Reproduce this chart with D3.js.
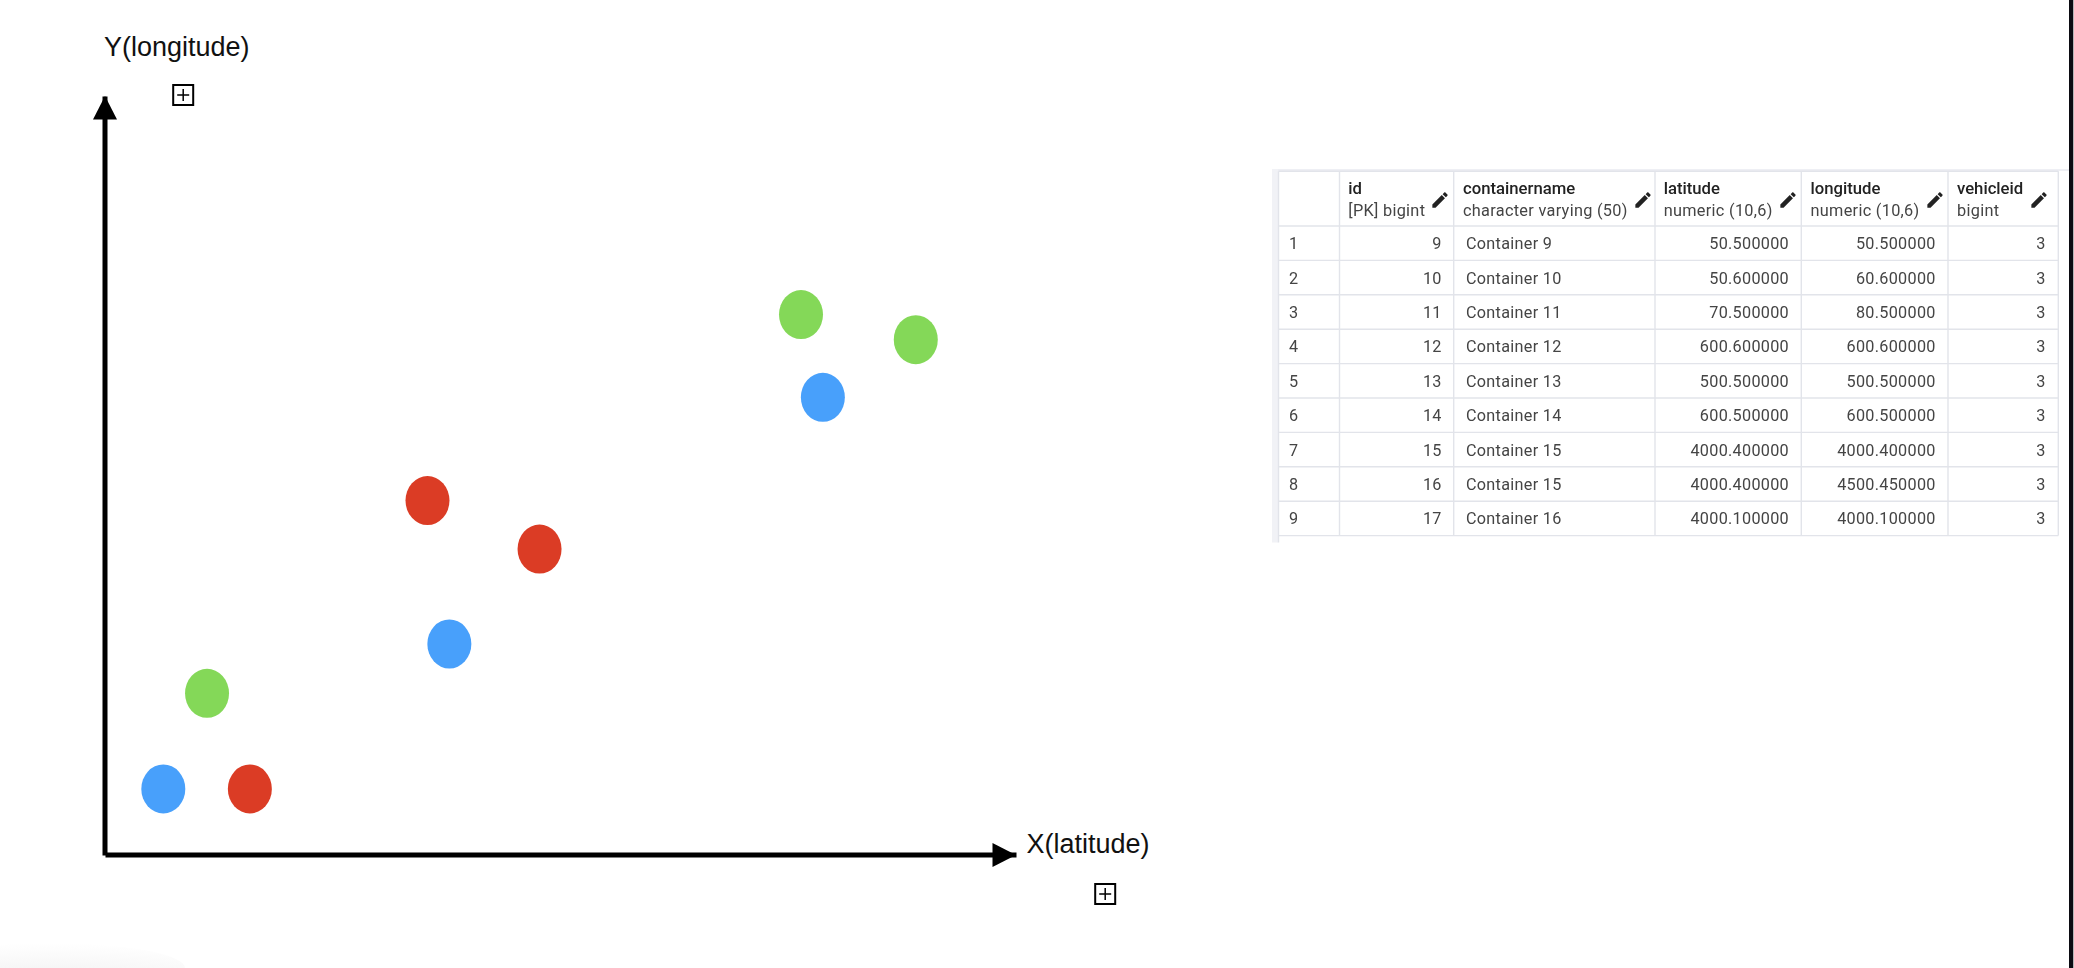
<!DOCTYPE html>
<html><head><meta charset="utf-8">
<script src="https://cdn.jsdelivr.net/npm/d3@7"></script>
<style>html,body{margin:0;padding:0;background:#fff;overflow:hidden}svg{display:block}</style>
</head><body><svg id="c" width="2074" height="968"></svg>
<script>
// ---- scatter sketch values (no numeric scale in the source; 0-100 axis units)
const greenX=[76.4,89.0,11.2], greenY=[71.2,67.9,21.3];
const blueX=[78.8,37.8,6.4],  blueY=[60.3,27.8,8.7];
const redX=[35.4,47.7,15.9],  redY=[46.7,40.3,8.7];
const xTitle="X(latitude)", yTitle="Y(longitude)";
// ---- table
const headNames=["id","containername","latitude","longitude","vehicleid"];
const headTypes=["[PK] bigint","character varying (50)","numeric (10,6)","numeric (10,6)","bigint"];
const rowNums=[1,2,3,4,5,6,7,8,9];
const ids=[9,10,11,12,13,14,15,16,17];
const names=["Container 9","Container 10","Container 11","Container 12","Container 13","Container 14","Container 15","Container 15","Container 16"];
const lats=["50.500000","50.600000","70.500000","600.600000","500.500000","600.500000","4000.400000","4000.400000","4000.100000"];
const lons=["50.500000","60.600000","80.500000","600.600000","500.500000","600.500000","4000.400000","4500.450000","4000.100000"];
const vehicles=[3,3,3,3,3,3,3,3,3];

const svg=d3.select("#c");
const defs=svg.append("defs");
const g=defs.append("radialGradient").attr("id","sh").attr("cx",.5).attr("cy",1).attr("r",1);
g.append("stop").attr("offset",0).attr("stop-color","#ececec");
g.append("stop").attr("offset",.6).attr("stop-color","#f8f8f8");
g.append("stop").attr("offset",1).attr("stop-color","#ffffff");
defs.append("filter").attr("id","soft").attr("x",0).attr("y",0).attr("width",1).attr("height",1)
  .append("feGaussianBlur").attr("stdDeviation",0.45);

// bottom-left window shadow and right edge bar
svg.append("ellipse").attr("cx",50).attr("cy",968).attr("rx",135).attr("ry",25).attr("fill","url(#sh)");
svg.append("rect").attr("x",2069).attr("y",0).attr("width",4.3).attr("height",968).attr("fill","#0b0b12");

// ---- axes
const x=d3.scaleLinear().domain([0,100]).range([105,1016]);
const y=d3.scaleLinear().domain([0,100]).range([855,96]);
const axW=5;
const ax=svg.append("g");
ax.append("g").attr("transform",`translate(0,${y(0)-0.5})`).call(d3.axisBottom(x).tickValues([]).tickSizeOuter(0))
  .select(".domain").attr("stroke","#000").attr("stroke-width",axW);
ax.append("g").attr("transform",`translate(${x(0)-0.5},0)`).call(d3.axisLeft(y).tickValues([]).tickSizeOuter(0))
  .select(".domain").attr("stroke","#000").attr("stroke-width",axW);
const aL=23.5,aH=12;
ax.append("path").attr("d",`M${x(100)},${y(0)}l${-aL},${-aH}v${2*aH}z`).attr("fill","#000");
ax.append("path").attr("d",`M${x(0)},${y(100)}l${-aH},${aL}h${2*aH}z`).attr("fill","#000");

// titles
const tf="'Liberation Sans',Arial,sans-serif";
svg.append("text").attr("x",x(0)-1).attr("y",56).attr("font-family",tf).attr("font-size",27).attr("fill","#111").text(yTitle);
svg.append("text").attr("x",1026.5).attr("y",y(0)-1.7).attr("font-family",tf).attr("font-size",27).attr("fill","#111").text(xTitle);

// small plus boxes
function plus(bx,by){
  const s=20,gp=svg.append("g").attr("transform",`translate(${bx},${by})`).attr("fill","none").attr("stroke","#000");
  gp.append("rect").attr("width",s).attr("height",s).attr("stroke-width",2);
  gp.append("path").attr("d",`M4,${s/2}H${s-4}M${s/2},4V${s-4}`).attr("stroke-width",1.5);
}
plus(173.2,85); plus(1095.2,884);

// ---- points
const series=[
 {c:"#84d858",xs:greenX,ys:greenY},
 {c:"#48a0fb",xs:blueX,ys:blueY},
 {c:"#db3c25",xs:redX,ys:redY}];
series.forEach(s=>{
  svg.append("g").selectAll("ellipse").data(d3.zip(s.xs,s.ys)).join("ellipse")
    .attr("cx",d=>x(d[0])).attr("cy",d=>y(d[1])).attr("rx",22).attr("ry",24.5).attr("fill",s.c);
});

// ---- table
const colX=[1278.5,1339.5,1453.7,1655,1801.3,1948,2058.3];
const headY=[171.3,226];
const rowH=34.4;
const rowLine=i=>headY[1]+rowH*i;
const t=svg.append("g").attr("filter","url(#soft)");
const tFont="Roboto,sans-serif";
const lc="#e2e4ea";
t.append("rect").attr("x",1272).attr("y",169).attr("width",797).attr("height",2).attr("fill","#eeeff4");
t.append("rect").attr("x",1272).attr("y",169).attr("width",6).attr("height",373.5).attr("fill","#f1f2f6");
t.selectAll(".v").data(colX).join("line").attr("x1",d=>d).attr("x2",d=>d)
  .attr("y1",headY[0]).attr("y2",(d,i)=>i===0?542.5:rowLine(9)).attr("stroke",lc).attr("stroke-width",1.4);
t.selectAll(".h").data([headY[0],...rowNums.map((d,i)=>rowLine(i)),rowLine(9)]).join("line")
  .attr("x1",colX[0]).attr("x2",colX[6]).attr("y1",d=>d).attr("y2",d=>d).attr("stroke",lc).attr("stroke-width",1.4);

const hx=[1348.3,1463,1663.7,1810.5,1957];
const pen=[1440,1643,1788,1935,2039];
const pd="M3 17.25V21h3.75L17.81 9.94l-3.75-3.75L3 17.25zM20.71 7.04c.39-.39.39-1.02 0-1.41l-2.34-2.34c-.39-.39-1.02-.39-1.41 0l-1.83 1.83 3.75 3.75 1.83-1.83z";
headNames.forEach((n,i)=>{
  t.append("text").attr("x",hx[i]).attr("y",194).attr("font-family",tFont).attr("font-weight",500).attr("font-size",16.7).attr("fill","#222").text(n);
  t.append("text").attr("x",hx[i]).attr("y",216).attr("font-family",tFont).attr("font-size",16.3).attr("letter-spacing",.3).attr("fill","#444").text(headTypes[i]);
  t.append("path").attr("d",pd).attr("transform",`translate(${pen[i]-10.2},${189.8}) scale(.85)`).attr("fill","#222");
});
const cols=[
 {v:rowNums,x:1289,a:"start"},
 {v:ids,x:1441.7,a:"end"},
 {v:names,x:1466,a:"start"},
 {v:lats,x:1789,a:"end"},
 {v:lons,x:1935.7,a:"end"},
 {v:vehicles,x:2045.7,a:"end"}];
cols.forEach(c=>{
  t.append("g").selectAll("text").data(c.v).join("text")
   .attr("x",c.x).attr("y",(d,i)=>rowLine(i)+23.2)
   .attr("text-anchor",c.a).attr("font-family",tFont).attr("font-size",16.2).attr("letter-spacing",.3).attr("fill","#444").text(d=>d);
});
</script></body></html>
